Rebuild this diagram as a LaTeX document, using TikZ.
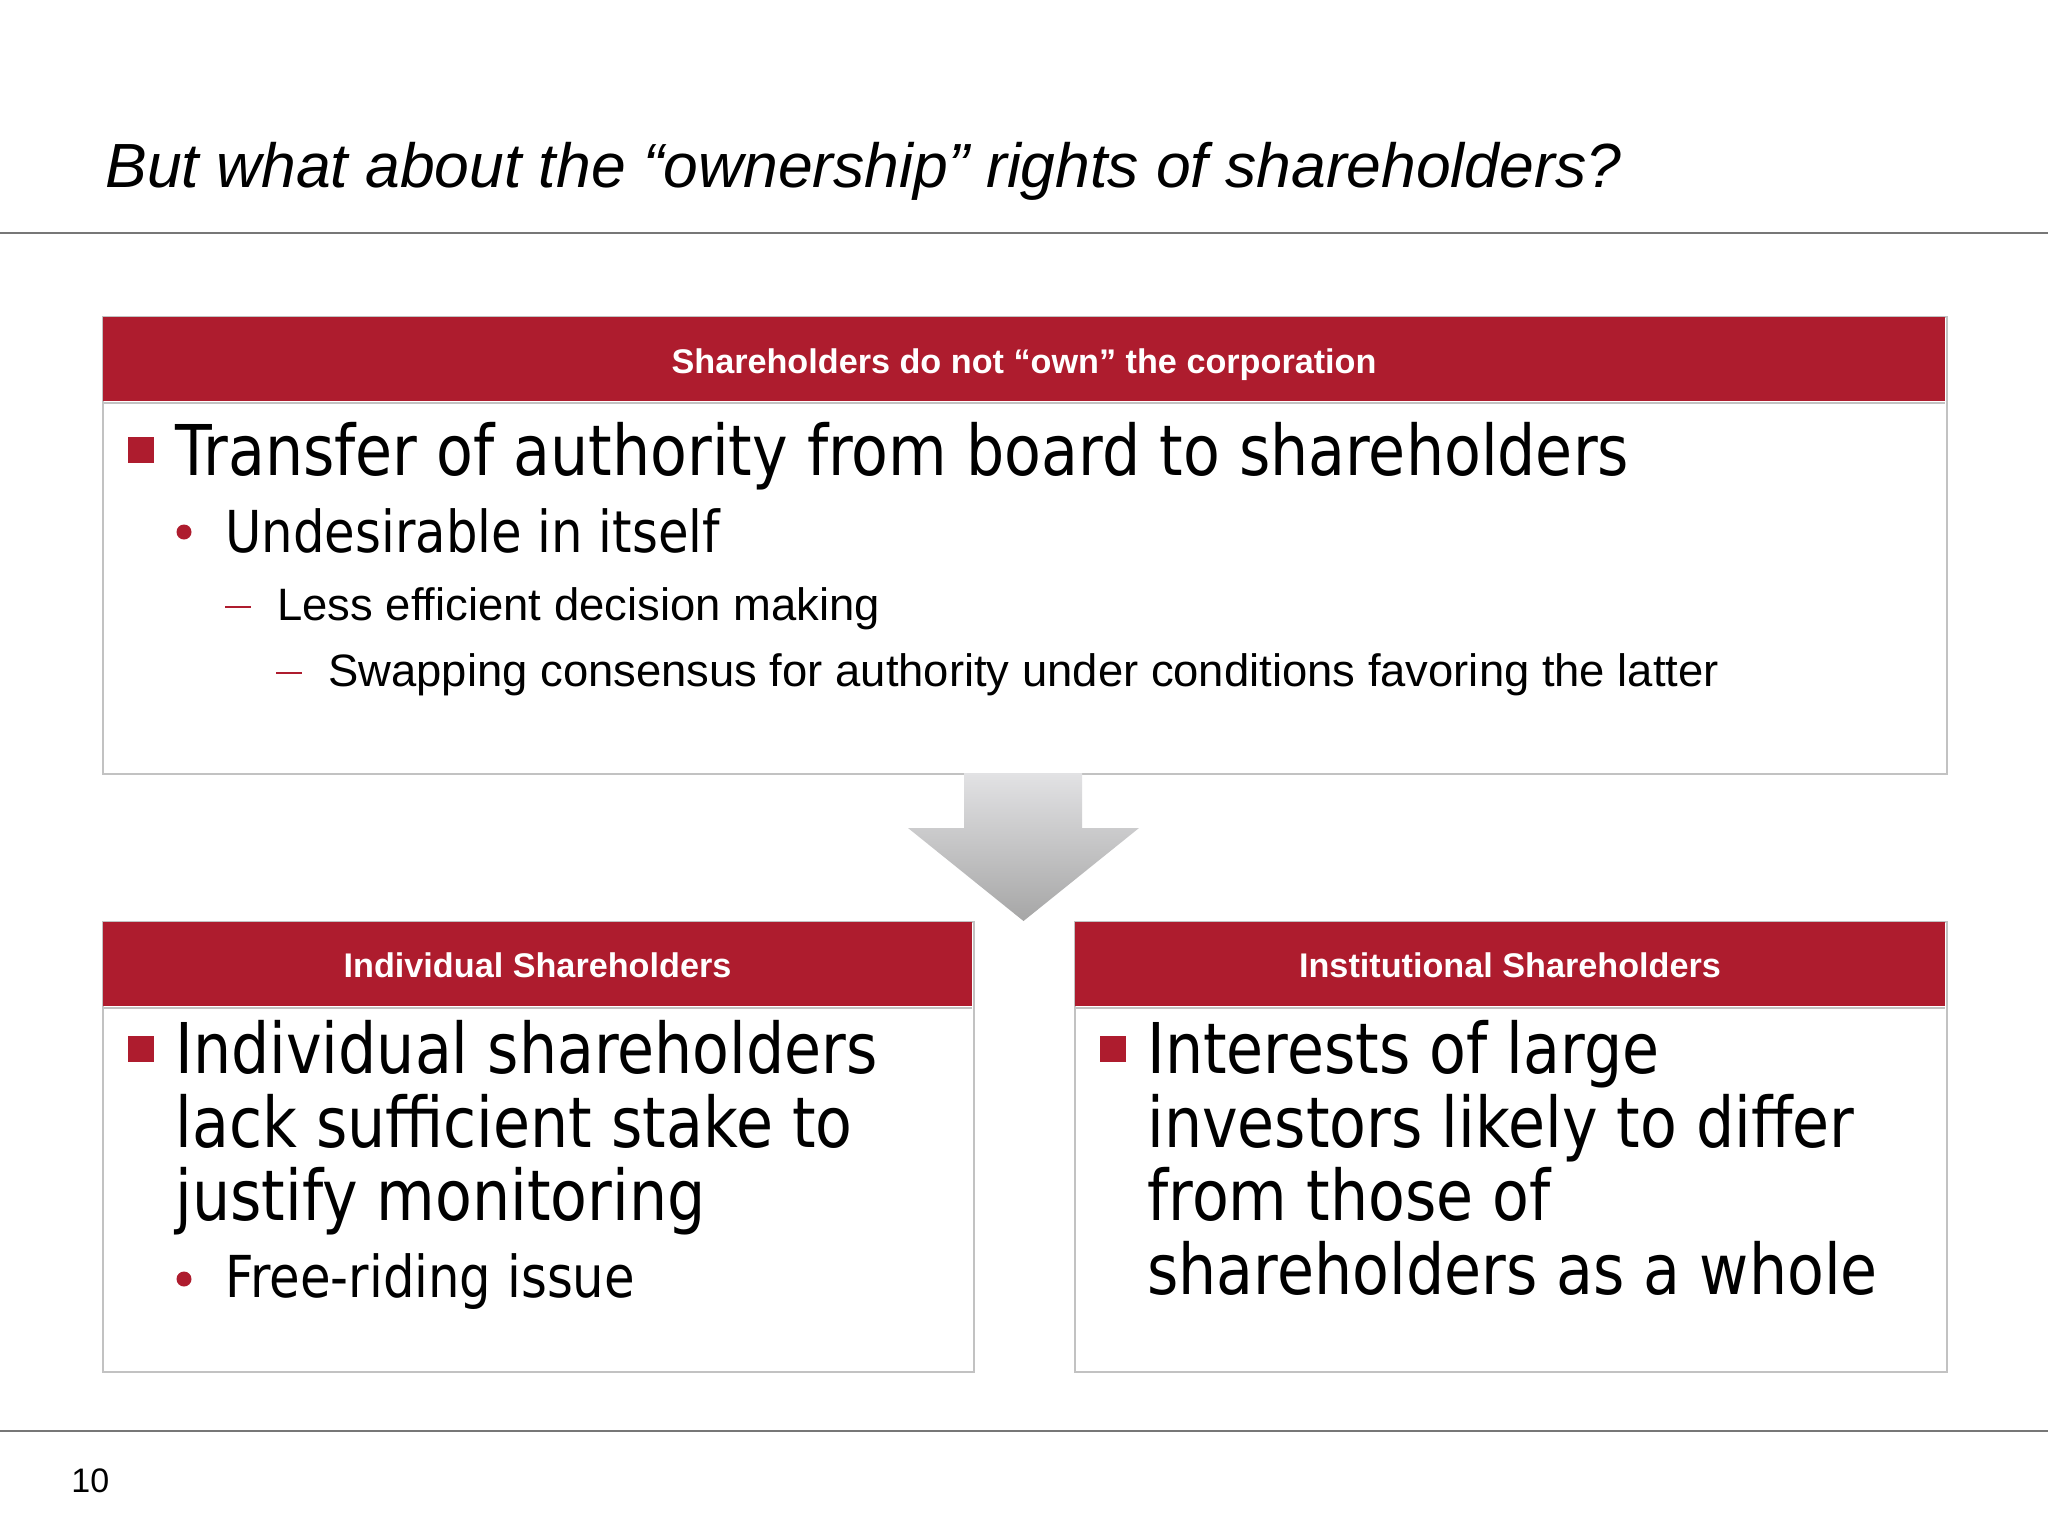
\documentclass[tikz,border=0pt]{standalone}
\usepackage{fontspec}
\setmainfont{Liberation Sans}
\newfontfamily\tahfont{DejaVu Sans}[FakeStretch=0.86]
\definecolor{hdrred}{HTML}{AE1C2E}
\definecolor{boxgray}{HTML}{C2C2C2}
\definecolor{rulegray}{HTML}{777777}
\definecolor{arrtop}{HTML}{E2E2E4}
\definecolor{arrbot}{HTML}{A6A6A6}
\tikzset{
  boxframe/.style={draw=boxgray, line width=1pt, fill=white, inner sep=0pt, anchor=north west},
  hdrbar/.style={fill=hdrred, inner sep=0pt, anchor=north west},
  hdrtext/.style={text=white, inner sep=0pt, anchor=base, font=\bfseries\fontsize{17.1}{20}\selectfont},
  sqbullet/.style={fill=hdrred, inner sep=0pt, minimum size=13pt},
  dotbullet/.style={circle, fill=hdrred, inner sep=0pt, minimum size=7.5pt},
  dashbullet/.style={fill=hdrred, inner sep=0pt, minimum width=13pt, minimum height=1.4pt},
  lvlone/.style={anchor=base west, inner sep=0pt, font=\tahfont\fontsize{35}{37}\selectfont},
  lvltwo/.style={anchor=base west, inner sep=0pt, font=\tahfont\fontsize{28.9}{31}\selectfont},
  lvlthree/.style={anchor=base west, inner sep=0pt, font=\fontsize{22.7}{26}\selectfont},
}
\begin{document}
\begin{tikzpicture}[x=0.5pt,y=-0.5pt]
\useasboundingbox (0,0) rectangle (2048,1536);
\fill[white] (0,0) rectangle (2048,1536);

% title and rules
\node[anchor=base west, inner sep=0pt, font=\itshape\fontsize{31.2}{34}\selectfont] (title) at (105,187)
  {But what about the “ownership” rights of shareholders?};
\coordinate (rtl) at (0,233); \coordinate (rtr) at (2048,233);
\draw[rulegray, line width=1pt] (rtl) -- (rtr);
\coordinate (rbl) at (0,1431); \coordinate (rbr) at (2048,1431);
\draw[rulegray, line width=1pt] (rbl) -- (rbr);
\node[anchor=base west, inner sep=0pt, font=\fontsize{17}{20}\selectfont] (pagenum) at (71,1492) {10};

% top box
\node[boxframe, minimum width=922pt, minimum height=228.5pt] (topbox) at (102,316) {};
\node[hdrbar, minimum width=921pt, minimum height=42pt] (tophdr) at (103,317) {};
\draw[boxgray, line width=1.2pt] (103,403) -- (1945,403);
\node[hdrtext] (tophdrtext) at (1024,373) {Shareholders do not “own” the corporation};

\node[sqbullet] (tb1) at (141,450) {};
\node[lvlone] (tt1) at (175,475) {Transfer of authority from board to shareholders};
\node[dotbullet] (tb2) at (184,532) {};
\node[lvltwo] (tt2) at (225,552) {Undesirable in itself};
\node[dashbullet] (tb3) at (238,607) {};
\node[lvlthree] (tt3) at (277,620) {Less efficient decision making};
\node[dashbullet] (tb4) at (289,673) {};
\node[lvlthree] (tt4) at (328,686) {Swapping consensus for authority under conditions favoring the latter};

% arrow
\coordinate (as1) at (964,773);
\coordinate (as2) at (1082,773);
\coordinate (as3) at (1082,828);
\coordinate (as4) at (1139,828);
\coordinate (atip) at (1023.5,921);
\coordinate (as5) at (908,828);
\coordinate (as6) at (964,828);
\shade[top color=arrtop, bottom color=arrbot] (as1) -- (as2) -- (as3) -- (as4) -- (atip) -- (as5) -- (as6) -- cycle;

% left box
\node[boxframe, minimum width=435.5pt, minimum height=225pt] (leftbox) at (102,921) {};
\node[hdrbar, minimum width=434.5pt, minimum height=42pt] (lefthdr) at (103,922) {};
\draw[boxgray, line width=1.2pt] (103,1008) -- (972,1008);
\node[hdrtext] (lefthdrtext) at (537.5,977) {Individual Shareholders};

\node[sqbullet] (lb1) at (141,1049) {};
\node[lvlone] (lt1) at (175,1073) {Individual shareholders};
\node[lvlone] (lt2) at (175,1147) {lack sufficient stake to};
\node[lvlone] (lt3) at (175,1220) {justify monitoring};
\node[dotbullet] (lb2) at (184,1279) {};
\node[lvltwo] (lt4) at (225,1297) {Free-riding issue};

% right box
\node[boxframe, minimum width=436pt, minimum height=225pt] (rightbox) at (1074,921) {};
\node[hdrbar, minimum width=435pt, minimum height=42pt] (righthdr) at (1075,922) {};
\draw[boxgray, line width=1.2pt] (1075,1008) -- (1945,1008);
\node[hdrtext] (righthdrtext) at (1510,977) {Institutional Shareholders};

\node[sqbullet] (rb1) at (1113,1049) {};
\node[lvlone] (rt1) at (1147,1073) {Interests of large};
\node[lvlone] (rt2) at (1147,1147) {investors likely to differ};
\node[lvlone] (rt3) at (1147,1220) {from those of};
\node[lvlone] (rt4) at (1147,1294) {shareholders as a whole};
\end{tikzpicture}
\end{document}
